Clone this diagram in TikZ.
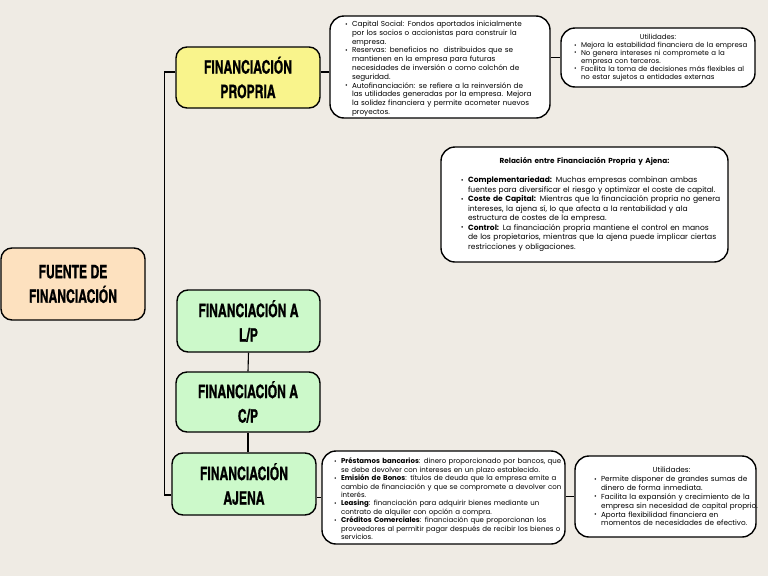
\documentclass[tikz,border=0pt]{standalone}
\usepackage{fontspec}
\usepackage{enumitem}
\setmainfont{Poppins}
\newfontfamily\headfont[Extension=.otf,FakeStretch=0.8,FakeBold=0.8]{texgyreheroscn-bold}
\newfontfamily\symfont{DejaVu Sans}
\definecolor{bgc}{HTML}{EFEBE4}
\definecolor{peachc}{HTML}{FDE1BF}
\definecolor{yellowc}{HTML}{F9F48C}
\definecolor{greenc}{HTML}{CCF9CA}
\setlist[itemize]{label={\raisebox{0.1ex}{\symfont\scalebox{0.75}{•}}}, labelsep=4pt, itemsep=0pt, topsep=0pt, parsep=0pt, partopsep=0pt}
\newcommand{\mb}[1]{\makebox[0pt][l]{#1}}
\hbadness=10000
\begin{document}
\begin{tikzpicture}[x=1pt,y=-1pt,
  headbox/.style={draw=black, line width=1.4pt, rounded corners=11pt, align=center, inner sep=0pt, font=\headfont\fontsize{18.5}{24.5}\selectfont},
  infobox/.style={draw=black, line width=1.4pt, rounded corners=14pt, fill=white, inner ysep=0pt},
  link/.style={draw=black, line width=1.1pt}]
\fill[bgc] (0,0) rectangle (768,576);
\useasboundingbox (0,0) rectangle (768,576);

\node[headbox, fill=peachc, minimum width=144pt, minimum height=72pt] (fuente) at (73,284) {FUENTE DE\\FINANCIACIÓN};
\node[headbox, fill=yellowc, minimum width=144pt, minimum height=61pt] (propria) at (248,77.5) {FINANCIACIÓN\\PROPRIA};
\node[headbox, fill=greenc, minimum width=143pt, minimum height=62pt] (lp) at (248.5,321) {FINANCIACIÓN A\\L/P};
\node[headbox, fill=greenc, minimum width=144pt, minimum height=60pt] (cp) at (248,402) {FINANCIACIÓN A\\C/P};
\node[headbox, fill=greenc, minimum width=144pt, minimum height=62pt] (ajena) at (244,484) {FINANCIACIÓN\\AJENA};

\node[infobox, minimum height=102pt, inner xsep=10pt, text width=200pt, font=\fontsize{7.25}{8.8}\selectfont] (t1) at (440,67) {%
\begin{itemize}[leftmargin=12pt]
\item \mb{Capital Social: Fondos aportados inicialmente}\\\mb{por los socios o accionistas para construir la}\\\mb{empresa.}
\item \mb{Reservas: beneficios no\ \ distribuidos que se}\\\mb{mantienen en la empresa para futuras}\\\mb{necesidades de inversión o como colchón de}\\\mb{seguridad.}
\item \mb{Autofinanciación: se refiere a la reinversión de}\\\mb{las utilidades generadas por la empresa. Mejora}\\\mb{la solidez financiera y permite acometer nuevos}\\\mb{proyectos.}
\end{itemize}};

\node[infobox, minimum height=59pt, inner xsep=11pt, text width=172pt, font=\fontsize{7}{7.9}\selectfont] (u1) at (658,57.5) {%
{\centering Utilidades:\par}
\begin{itemize}[leftmargin=9pt]
\item \mb{Mejora la estabilidad financiera de la empresa}
\item \mb{No genera intereses ni compromete a la}\\\mb{empresa con terceros.}
\item \mb{Facilita la toma de decisiones más flexibles al}\\\mb{no estar sujetos a entidades externas}
\end{itemize}};

\node[infobox, minimum height=115pt, inner xsep=8pt, text width=271pt, font=\fontsize{7.55}{9.5}\selectfont] (rel) at (584.5,204.5) {%
{\centering\fontsize{7.3}{9.5}\selectfont\textbf{Relación entre Financiación Propria y Ajena:}\par}
\vspace{9.5pt}
\begin{itemize}[leftmargin=19pt]
\item \mb{\textbf{Complementariedad:} Muchas empresas combinan ambas}\\\mb{fuentes para diversificar el riesgo y optimizar el coste de capital.}
\item \mb{\textbf{Coste de Capital:} Mientras que la financiación propria no genera}\\\mb{intereses, la ajena sí, lo que afecta a la rentabilidad y ala}\\\mb{estructura de costes de la empresa.}
\item \mb{\textbf{Control:} La financiación propria mantiene el control en manos}\\\mb{de los propietarios, mientras que la ajena puede implicar ciertas}\\\mb{restricciones y obligaciones.}
\end{itemize}};

\node[infobox, minimum height=93pt, inner xsep=5pt, text width=233pt, font=\fontsize{7.0}{8.4}\selectfont] (t2) at (443.5,497.5) {%
\begin{itemize}[leftmargin=14pt]
\item \mb{\textbf{Préstamos bancarios}: dinero proporcionado por bancos, que}\\\mb{se debe devolver con intereses en un plazo establecido.}
\item \mb{\textbf{Emisión de Bonos}: títulos de deuda que la empresa emite a}\\\mb{cambio de financiación y que se compromete a devolver con}\\\mb{interés.}
\item \mb{\textbf{Leasing}: financiación para adquirir bienes mediante un}\\\mb{contrato de alquiler con opción a compra.}
\item \mb{\textbf{Créditos Comerciales}: financiación que proporcionan los}\\\mb{proveedores al permitir pagar después de recibir los bienes o}\\\mb{servicios.}
\end{itemize}};

\node[infobox, minimum height=81pt, inner xsep=10pt, text width=161pt, font=\fontsize{7.3}{8.9}\selectfont] (u2) at (665.5,496.5) {%
{\centering\hspace*{12pt}Utilidades:\par}
\begin{itemize}[leftmargin=16pt]
\item \mb{Permite disponer de grandes sumas de}\\\mb{dinero de forma inmediata.}
\item \mb{Facilita la expansión y crecimiento de la}\\\mb{empresa sin necesidad de capital proprio.}
\item \mb{Aporta flexibilidad financiera en}\\\mb{momentos de necesidades de efectivo.}
\end{itemize}};

\draw[link] ([yshift=5.5pt]propria.west) -- ++(-11,0) |- ([yshift=-11pt]ajena.west);
\draw[link] ([yshift=5.5pt]propria.east) -- ([yshift=5.5pt]propria.east -| t1.west);
\draw[link] (t1.east |- u1.west) -- (u1.west);
\draw[link] (lp.south) -- (cp.north);
\draw[link] (cp.south) -- (cp.south |- ajena.north);
\draw[link] (ajena.east |- t2.west) -- (t2.west);
\draw[link] (t2.east |- u2.west) -- (u2.west);
\end{tikzpicture}
\end{document}
